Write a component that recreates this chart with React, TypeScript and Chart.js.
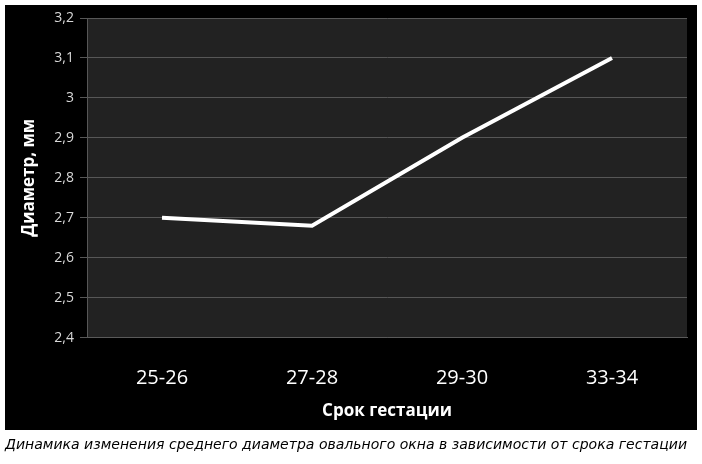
import React, { useEffect, useRef } from "react";
import { Chart, registerables } from "chart.js";

Chart.register(...registerables);

const categories = ["25-26", "27-28", "29-30", "33-34"];
const diameters = [2.7, 2.68, 2.9, 3.1];
const yMin = 2.4;
const yMax = 3.2;
const yStep = 0.1;
const yTitle = "Диаметр, мм";
const xTitle = "Срок гестации";
const caption = "Динамика изменения среднего диаметра овального окна в зависимости от срока гестации";

const bgPlugin = {
  id: "bgPlugin",
  beforeDraw(chart: any) {
    const { ctx, width, height, chartArea } = chart;
    ctx.save();
    ctx.fillStyle = "#ffffff";
    ctx.fillRect(0, 0, width, height);
    ctx.fillStyle = "#000000";
    ctx.fillRect(5, 5, width - 10, 425);
    ctx.fillStyle = "#222222";
    ctx.fillRect(chartArea.left, chartArea.top, chartArea.right - chartArea.left, chartArea.bottom - chartArea.top);
    ctx.restore();
  },
};

export default function App() {
  const ref = useRef<HTMLCanvasElement>(null);
  useEffect(() => {
    const chart = new Chart(ref.current!, {
      type: "line",
      data: {
        labels: categories,
        datasets: [
          {
            data: diameters,
            borderColor: "#ffffff",
            borderWidth: 4,
            pointRadius: 0,
            tension: 0,
            fill: false,
          },
        ],
      },
      options: {
        animation: false,
        responsive: false,
        layout: { padding: { left: 5, right: 15, top: 18, bottom: 0 } },
        plugins: {
          legend: { display: false },
          tooltip: { enabled: false },
          title: {
            display: true,
            position: "bottom",
            text: caption,
            color: "#000000",
            font: { family: "DejaVu Sans", size: 14.5, style: "italic", weight: "normal" },
            padding: { top: 7, bottom: 10 },
          },
        },
        scales: {
          x: {
            offset: true,
            grid: { display: false },
            border: { display: true, color: "#5a5a5a", width: 1 },
            ticks: {
              color: "#ffffff",
              font: { family: "Open Sans", size: 20 },
              padding: 21,
            },
            title: {
              display: true,
              text: xTitle,
              color: "#ffffff",
              font: { family: "Open Sans", size: 17, weight: "bold" },
              padding: { top: 4, bottom: 8 },
            },
            afterFit(scale: any) {
              scale.height = 92;
            },
          },
          y: {
            min: yMin,
            max: yMax,
            ticks: {
              stepSize: yStep,
              color: "#d8d8d8",
              font: { family: "Open Sans", size: 14 },
              padding: 6,
              callback: (v: any) => String(Number(Number(v).toFixed(1))).replace(".", ","),
            },
            grid: { color: "#575757", lineWidth: 1, tickLength: 7 },
            border: { display: true, color: "#575757" },
            title: {
              display: true,
              text: yTitle,
              color: "#ffffff",
              font: { family: "Open Sans", size: 17, weight: "bold" },
              padding: { top: 14, bottom: 0 },
            },
            afterFit(scale: any) {
              scale.width = 82;
            },
          },
        },
      },
      plugins: [bgPlugin],
    });
    return () => chart.destroy();
  }, []);
  return (
    <div style={{ position: "fixed", left: 0, top: 0, width: 702, height: 464 }}>
      <canvas ref={ref} width={702} height={464} style={{ display: "block", width: 702, height: 464 }} />
    </div>
  );
}
